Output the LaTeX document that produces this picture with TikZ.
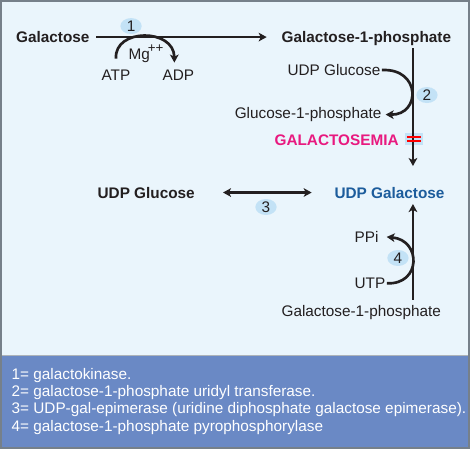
\documentclass[tikz,border=0pt]{standalone}
\usepackage{fontspec}
\setmainfont{Liberation Sans}
\usetikzlibrary{arrows, arrows.meta}
\usetikzlibrary{shapes.geometric, positioning, calc}
\usepackage{xcolor}

\definecolor{panel}{HTML}{EAF5FC}
\definecolor{keybox}{HTML}{6A89C5}
\definecolor{enzfill}{HTML}{C3E2F6}
\definecolor{semia}{HTML}{E8197F}
\definecolor{udpblue}{HTML}{1C5C9C}
\definecolor{rim}{HTML}{76808A}
\definecolor{ink}{HTML}{231F20}

\tikzset{
  chem/.style={font=\fontsize{11.5}{13}\selectfont, inner sep=1pt, text=ink},
  bchem/.style={font=\fontsize{11.5}{13}\selectfont\bfseries, inner sep=1pt, text=ink},
  enz/.style={ellipse, fill=enzfill, minimum width=16pt, minimum height=12pt, inner sep=0pt, font=\fontsize{11.5}{13}\selectfont, text=ink},
  flow/.style={line width=2pt, draw=ink},
}

\begin{document}
\begin{tikzpicture}[>={Stealth[length=6pt, width=6.5pt, inset=1.6pt]}, x=0.75pt, y=-0.75pt]
      \fill[panel] (0,0) rectangle (470,449);
      \fill[keybox] (2,355) rectangle (468,447);
      \draw[rim!60] (2,355) -- (468,355);
      \draw[rim, line width=1.3pt] (0.8,0.8) rectangle (469.2,448.2);

      \node[bchem, anchor=base east] (gal) at (91,42.5) {Galactose};
      \node[bchem, anchor=base west] (galp) at (280,42.5) {Galactose-1-phosphate};
      \draw[->, flow, shorten <=4pt, shorten >=10pt] (gal.east) -- (gal.east -| galp.west);
      \node[enz] (e1) at (131,26) {1};

      \node[chem, anchor=base west] (atp) at (100,80) {ATP};
      \node[chem, anchor=base west] (adp) at (161,80) {ADP};
      \node[chem, anchor=base west] (mg) at (127,59) {Mg\kern-1.5pt\raisebox{5pt}{\fontsize{10}{10}\selectfont ++}};
      \draw[->, flow] ([yshift=7pt]atp.north) .. controls (114,28) and (174,28) .. ([xshift=-3pt, yshift=4pt]adp.north);

      \node[chem, anchor=base east] (udpglc) at (382,75.5) {UDP Glucose};
      \node[chem, anchor=base east] (glcp) at (383,118.5) {Glucose-1-phosphate};
      \coordinate (v1a) at (413,48);
      \coordinate (v1b) at (413,166);
      \fill[enzfill] (405,133) rectangle (423,145);
      \draw[->, flow] (v1a) -- (v1b);
      \draw[red, line width=1pt] (407,137) -- (421,137) (407,141) -- (421,141);
      \draw[->, flow] (udpglc.east) .. controls (421,68) and (421,115) .. ([xshift=2pt]glcp.east);
      \node[enz] (e2) at (427,95) {2};

      \node[bchem, text=semia, anchor=base west] (galsemia) at (273,145.5) {GALACTOSEMIA};

      \node[bchem, anchor=base west] (udpglc2) at (96,198) {UDP Glucose};
      \node[bchem, text=udpblue, anchor=base west] (udpgal) at (333,198) {UDP Galactose};
      \draw[<->, flow, shorten <=20pt, shorten >=16pt] (udpglc2.east) -- (udpglc2.east -| udpgal.west);
      \node[enz] (e3) at (266,207) {3};

      \node[chem, anchor=base west] (ppi) at (353,242.5) {PPi};
      \node[chem, anchor=base west] (utp) at (353,288.5) {UTP};
      \node[chem, anchor=base west] (galp2) at (280,317) {Galactose-1-phosphate};
      \coordinate (v2a) at (413,300);
      \coordinate (v2b) at (413,204);
      \draw[->, flow] (v2a) -- (v2b);
      \draw[->, flow] (utp.east) .. controls (421.5,285) and (421.5,240) .. ([xshift=5pt]ppi.east);
      \node[enz] (e4) at (398,258) {4};

      \node[chem, text=white, anchor=base west, align=left, font=\fontsize{11.5}{13.1}\selectfont] (key) at (10,431.5)
        {1= galactokinase.\\
         2= galactose-1-phosphate uridyl transferase.\\
         3= UDP-gal-epimerase (uridine diphosphate galactose epimerase).\\
         4= galactose-1-phosphate pyrophosphorylase};
      \useasboundingbox (0,0) rectangle (470,449);
    \end{tikzpicture}
\end{document}
